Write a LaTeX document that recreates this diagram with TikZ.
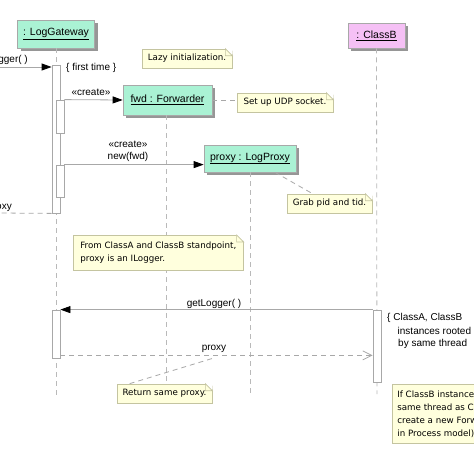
\documentclass[tikz,border=0pt]{standalone}
\usepackage{fontspec}
\setmainfont{Liberation Sans}
\newfontfamily\notefont{DejaVu Sans}
\usetikzlibrary{arrows.meta,shadows}

\definecolor{mint}{RGB}{170,242,212}
\definecolor{pinkb}{RGB}{245,192,245}
\definecolor{notefill}{RGB}{255,255,221}
\definecolor{notedraw}{RGB}{196,196,160}
\definecolor{linegray}{RGB}{168,168,168}
\definecolor{lifegray}{RGB}{185,185,185}
\definecolor{shadowgray}{RGB}{150,150,150}

\tikzset{
  obj/.style={draw=linegray, fill=mint, line width=0.7pt, inner sep=0pt,
    font=\fontsize{10.5}{12}\selectfont,
    drop shadow={shadow xshift=3pt, shadow yshift=-3pt, fill=shadowgray, opacity=1}},
  life/.style={draw=lifegray, line width=0.8pt, dash pattern=on 5pt off 4pt},
  act/.style={draw=linegray, fill=white, line width=0.8pt, minimum width=8pt, inner sep=0pt},
  msg/.style={draw=linegray, line width=0.8pt, -{Triangle[length=10pt,width=7pt,color=black,fill=black]}},
  ret/.style={draw=linegray, line width=0.8pt, dash pattern=on 5pt off 4pt},
  retarrow/.style={ret, -{Straight Barb[length=9pt,width=9pt,line width=0.8pt]}},
  lbl/.style={inner sep=0pt, font=\fontsize{10}{12}\selectfont},
  note/.style={inner sep=0pt, draw=notedraw, fill=notefill, line width=0.7pt,
    font=\notefont\fontsize{8.7}{13}\selectfont},
  notebox/.style={draw=notedraw, fill=notefill, line width=0.7pt},
  noteline/.style={draw=linegray, line width=0.8pt, dash pattern=on 5pt off 4pt},
}

% folded corner drawn over the note's north east corner
\newcommand\dogear[1]{%
  \fill[white] ([xshift=-7pt]#1.north east) -- ([xshift=0.6pt,yshift=0.6pt]#1.north east)
    -- ([yshift=-7pt]#1.north east) -- cycle;
  \path[notebox] ([xshift=-7pt]#1.north east) -- ([xshift=-7pt,yshift=-7pt]#1.north east)
    -- ([yshift=-7pt]#1.north east) -- cycle;}

\begin{document}
\begin{tikzpicture}[x=1pt,y=-1pt]
\fill[white] (0,0) rectangle (474,474);
\useasboundingbox (0,0) rectangle (474,474);

% lifeline ends
\coordinate (lgend) at (56,397);
\coordinate (cbend) at (377,394);
\coordinate (fwend) at (166,384);
\coordinate (pxend) at (250,394);

% objects
\node[obj, minimum width=77pt, minimum height=28pt] (lg) at (56,34) {\underline{: LogGateway}};
\node[obj, fill=pinkb, minimum width=57pt, minimum height=25pt] (cb) at (376.5,35.5) {\underline{: ClassB}};
\node[obj, minimum width=89pt, minimum height=30pt] (fw) at (167.5,100) {\underline{fwd : Forwarder}};
\node[obj, minimum width=92pt, minimum height=27pt] (px) at (250,158.5) {\underline{proxy : LogProxy}};

\draw[life] (lg.south) -- (lgend);
\draw[life] (cb.south) -- (cbend);
\draw[life] (fw.south -| fwend) -- (fwend);
\draw[life] (px.south) -- (pxend);

% notes
\node[note, minimum width=90pt, minimum height=19pt] (n1) at (187,58.5) {Lazy initialization.};
\dogear{n1}
\node[note, minimum width=96pt, minimum height=19pt] (n2) at (285,102.5) {Set up UDP socket.};
\dogear{n2}
\draw[noteline] (fw.east) -- (fw.east -| n2.west);
\node[note, minimum width=85pt, minimum height=19pt] (n3) at (329.5,203.5) {Grab pid and tid.};
\dogear{n3}
\draw[noteline] ([xshift=25pt]px.south) -- ([xshift=-17pt]n3.north);
\node[note, anchor=north west, minimum height=35pt, align=left, inner xsep=7pt] (n4) at (73,235)
  {From ClassA and ClassB standpoint,\\proxy is an ILogger.};
\dogear{n4}
\node[note, minimum width=95pt, minimum height=19pt] (n5) at (164.5,393.5) {Return same proxy.};
\dogear{n5}

% activation bars
\node[act, minimum height=148pt] (a1) at (56,139) {};
\node[act, minimum height=33pt] (a2) at (60,116.5) {};
\node[act, minimum height=32pt] (a3) at (60,181) {};
\node[act, minimum height=48pt] (a4) at (56,334) {};
\node[act, minimum height=72pt] (aB) at (377,346) {};

% messages
\coordinate (lin) at (0,67);
\draw[msg] (lin) -- (lin -| a1.west);
\node[lbl, anchor=south east] (l1) at (28,65) {getLogger( )};
\node[lbl, anchor=west] (l2) at (66,68) {\{ first time \}};

\draw[msg] (a2.north east) -- (fw.west);
\node[lbl] (l3) at (91,92) {«create»};

\draw[msg] (a3.north east) -- (a3.north east -| px.west);
\node[lbl, align=center] (l4) at (128,151.5) {«create»\\new(fwd)};

\coordinate (rout) at (0,213);
\draw[ret] (a1.south west) -- (rout);
\node[lbl, anchor=south east] (l5) at (12,212) {proxy};

\draw[msg] (aB.north west) -- (aB.north west -| a4.east);
\node[lbl] (l6) at (214,304) {getLogger( )};

\draw[retarrow] ([yshift=3pt]a4.south east) coordinate (r2s) -- (r2s -| aB.west);
\node[lbl] (l7) at (214,349) {proxy};
\draw[noteline] ([xshift=13pt]n5.north west) -- ([yshift=-5pt]l7.south);

\node[lbl, anchor=west] (c1) at (387,318) {\{ ClassA, ClassB};
\node[lbl, anchor=west] (c2) at (397.5,331) {instances rooted};
\node[lbl, anchor=west] (c3) at (398,344) {by same thread};

\begin{scope}
\clip (0,0) rectangle (474,474);
\node[note, anchor=north west, minimum height=59pt, align=left, inner xsep=5pt] (n6) at (392,384)
  {If ClassB instances\\same thread as ClassA\\create a new Forwarder\\in Process model)};
\end{scope}
\end{tikzpicture}
\end{document}
